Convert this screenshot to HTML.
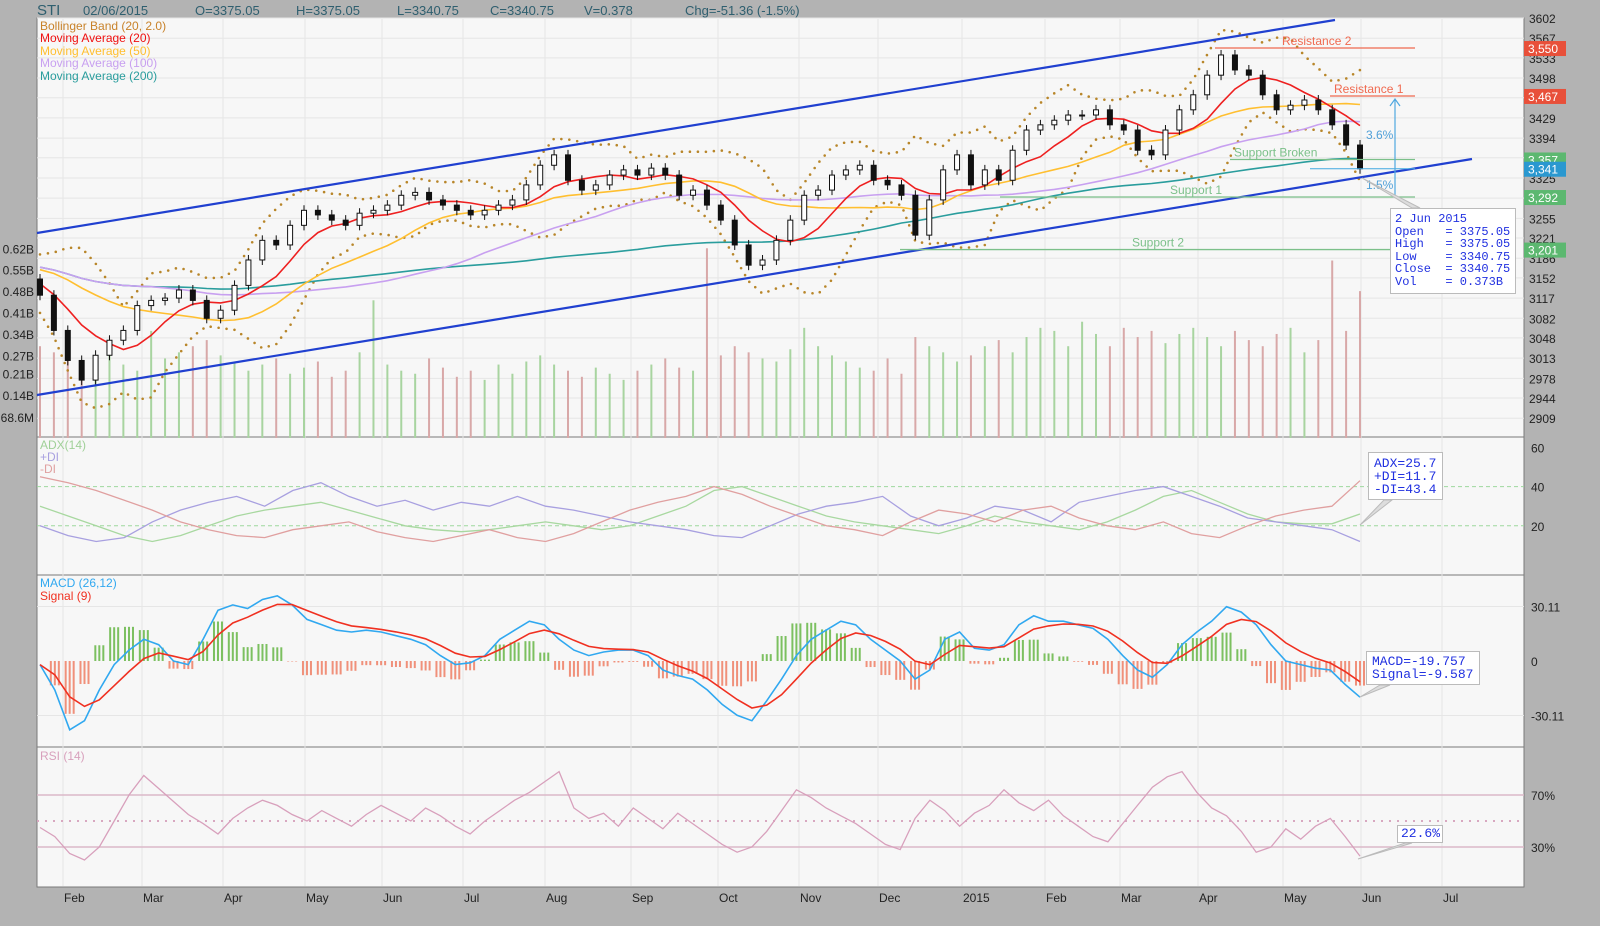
<!DOCTYPE html>
<html><head><meta charset="utf-8"><style>
html,body{margin:0;padding:0;background:#b3b3b3;width:1600px;height:926px;overflow:hidden;position:relative;}
#chart{display:block;position:absolute;left:0;top:0;font-family:"Liberation Sans",sans-serif;}
</style></head><body>
<svg id="chart" width="1600" height="926" viewBox="0 0 1600 926" xmlns="http://www.w3.org/2000/svg">
<rect x="0" y="0" width="1600" height="926" fill="#b3b3b3"/>
<g id="header" font-size="13" fill="#2f5f6f">
<text x="37" y="15" font-size="15">STI</text>
<text x="83" y="15">02/06/2015</text>
<text x="195" y="15">O=3375.05</text>
<text x="296" y="15">H=3375.05</text>
<text x="397" y="15">L=3340.75</text>
<text x="490" y="15">C=3340.75</text>
<text x="584" y="15">V=0.378</text>
<text x="685" y="15">Chg=-51.36 (-1.5%)</text>
</g>
<g id="panels"></g>
<g id="marks"></g>
<g id="overlay"></g>
</svg>
<script>
// ---- data ----
const closes=[3122,3061,3009,2975,3018,3044,3061,3104,3113,3117,
3131,3113,3082,3096,3139,3183,3217,3209,3243,3269,
3261,3252,3243,3264,3269,3278,3295,3300,3287,3278,
3269,3261,3269,3278,3287,3313,3347,3365,3321,3304,
3313,3330,3339,3330,3342,3330,3295,3304,3278,3252,
3209,3174,3183,3217,3252,3295,3304,3330,3339,3347,
3321,3313,3295,3226,3287,3339,3365,3313,3339,3321,
3373,3408,3417,3425,3434,3434,3443,3417,3408,3373,
3365,3408,3443,3469,3503,3538,3512,3503,3469,3443,
3451,3460,3443,3417,3382,3341];
const firstOpen=3150;
const priorCloses=[3180,3195,3205,3190,3170,3150,3160,3175,3185,3200,3210,3195,3180,3170,3165,3175,3160,3140,3130,3125];
const volumes=[0.30,0.28,0.33,0.25,0.27,0.30,0.24,0.22,0.35,0.26,
0.28,0.30,0.32,0.27,0.25,0.22,0.24,0.26,0.21,0.23,
0.25,0.20,0.22,0.28,0.45,0.24,0.22,0.21,0.26,0.23,
0.20,0.22,0.19,0.24,0.21,0.25,0.27,0.24,0.22,0.20,
0.23,0.21,0.19,0.22,0.24,0.26,0.23,0.22,0.62,0.27,
0.30,0.28,0.26,0.25,0.29,0.36,0.30,0.27,0.25,0.23,
0.22,0.26,0.21,0.33,0.30,0.28,0.25,0.27,0.30,0.32,
0.28,0.33,0.36,0.35,0.30,0.38,0.34,0.30,0.36,0.33,
0.35,0.31,0.34,0.36,0.33,0.30,0.35,0.32,0.30,0.34,
0.36,0.28,0.32,0.58,0.35,0.48];
const minusDI=[45,42,38,33,28,22,18,15,14,18,20,22,17,14,12,15,18,14,12,16,22,28,32,35,40,36,30,25,20,18,15,22,28,26,22,28,30,24,20,18,22,16,14,20,25,28,30,43];
const plusDI=[20,15,12,14,22,28,32,35,30,38,42,35,30,33,28,32,30,35,30,28,25,22,20,18,15,14,20,26,30,32,35,25,20,24,30,28,22,32,35,38,40,35,30,24,22,20,18,12];
const adx=[30,25,20,15,12,15,20,25,28,30,32,28,24,20,18,17,18,20,22,20,18,20,25,30,38,40,35,30,25,22,20,18,16,20,25,22,20,18,22,28,35,38,32,26,22,21,21,26];
const macd=[-2,-16,-38,-33,-16,-2,6,12,9,0,-2,12,28,31,29,34,36,31,23,20,17,16,17,16,14,12,9,3,-2,-1,3,12,17,22,20,12,6,3,5,6,6,3,-5,-8,-10,-16,-24,-30,-33,-22,-10,3,12,17,22,20,12,6,0,-10,-5,12,16,7,6,9,20,25,22,22,20,18,12,3,-5,-9,-2,9,16,22,30,27,20,9,0,-2,-4,-5,-13,-20];
const rsi=[45,38,25,20,30,50,70,85,75,65,55,48,40,52,60,66,62,55,50,58,52,46,55,62,56,50,60,54,46,40,50,58,66,72,80,88,60,52,56,46,60,52,44,56,48,40,32,26,30,42,58,74,68,60,54,48,40,32,28,52,66,58,46,56,62,74,64,58,66,54,46,38,34,48,62,76,84,88,72,60,54,42,26,30,44,36,46,52,38,23];
const priceTicks=[3602,3567,3533,3498,3464,3429,3394,3360,3325,3290,3255,3221,3186,3152,3117,3082,3048,3013,2978,2944,2909];
const volTicks=["0.62B","0.55B","0.48B","0.41B","0.34B","0.27B","0.21B","0.14B","68.6M"];
const volTickVals=[0.62,0.55,0.48,0.41,0.34,0.27,0.21,0.14,0.0686];
const monthLabels=["Feb","Mar","Apr","May","Jun","Jul","Aug","Sep","Oct","Nov","Dec","2015","Feb","Mar","Apr","May","Jun","Jul"];
const monthX=[64,143,224,306,383,464,546,632,719,800,879,963,1046,1121,1199,1284,1362,1443];
const levels=[{name:"resistance-2",label:"Resistance 2",v:3550,tag:"3,550",c:"#f06a50",x1:1215,lx:1282},
{name:"resistance-1",label:"Resistance 1",v:3467,tag:"3,467",c:"#f06a50",x1:1330,lx:1334},
{name:"support-broken",label:"Support Broken",v:3357,tag:"3,357",c:"#7cc08a",x1:1230,lx:1234},
{name:"support-1",label:"Support 1",v:3292,tag:"3,292",c:"#7cc08a",x1:1000,lx:1170},
{name:"support-2",label:"Support 2",v:3201,tag:"3,201",c:"#7cc08a",x1:900,lx:1132}];

// ---- geometry ----
const L=37,R=1524,X0=40,X1=1360;
const NS="http://www.w3.org/2000/svg";
const py=p=>18+(3602-p)*0.5775;
const vy=v=>438-v*306;
const ady=v=>565-v*1.96;
const my=v=>661-v*1.81;
const ry=v=>847-(v-30)*1.3;
const xi=(i,n)=>X0+i*(X1-X0)/(n-1);
function el(tag,attrs,parent){const e=document.createElementNS(NS,tag);for(const k in attrs)e.setAttribute(k,attrs[k]);parent.appendChild(e);return e;}
const P=document.getElementById('panels'),M=document.getElementById('marks'),O=document.getElementById('overlay');

[[18,437,'price-panel'],[437,575,'adx-panel'],[575,747,'macd-panel'],[747,887,'rsi-panel']].forEach(([t,b,n])=>{
 const r=el('rect',{x:L,y:t,width:R-L,height:b-t,fill:'#f7f7f7',stroke:'#7a7a7a','stroke-width':1},P);
 
 
});
monthX.forEach((x,i)=>{
 const g=el('line',{x1:x-1,x2:x-1,y1:19,y2:886,stroke:'#e6e6e6'},P);
 
 
 const t=el('text',{x:x,y:902,'font-size':12,fill:'#222'},P);t.textContent=monthLabels[i];
 
 
});
priceTicks.forEach(p=>{
 const g=el('line',{x1:L,x2:R,y1:py(p),y2:py(p),stroke:'#e6e6e6'},P);
 
 
 const t=el('text',{x:1529,y:py(p)+5,'font-size':12,fill:'#222'},P);t.textContent=p;
 
 
});
volTicks.forEach((s,i)=>{
 const t=el('text',{x:34,y:vy(volTickVals[i])+5,'font-size':12,fill:'#222','text-anchor':'end'},P);t.textContent=s;
 
 
});
[[60,ady],[40,ady],[20,ady]].forEach(([v,f])=>{const t=el('text',{x:1531,y:f(v)+5,'font-size':12,fill:'#222'},P);t.textContent=v;
 
 });
[[30.11,'30.11'],[0,'0'],[-30.11,'-30.11']].forEach(([v,s])=>{const t=el('text',{x:1531,y:my(v)+5,'font-size':12,fill:'#222'},P);t.textContent=s;
 
 
 if(v!==0){const g=el('line',{x1:L,x2:R,y1:my(v),y2:my(v),stroke:'#e6e6e6'},P);}});
[[70,'70%'],[30,'30%']].forEach(([v,s])=>{const t=el('text',{x:1531,y:ry(v)+5,'font-size':12,fill:'#222'},P);t.textContent=s;
 
 
 const g=el('line',{x1:L,x2:R,y1:ry(v),y2:ry(v),stroke:'#dcb8c8','stroke-width':1.5},P);
 
 });
{const g=el('line',{x1:L,x2:R,y1:ry(50),y2:ry(50),stroke:'#d8a8c0','stroke-width':2,'stroke-dasharray':'2 6'},P);
 
 }
[40,20].forEach(v=>{const g=el('line',{x1:L,x2:R,y1:ady(v),y2:ady(v),stroke:'#9ed89e','stroke-dasharray':'4 3'},P);
 
 });

const nC=closes.length;
volumes.forEach((v,i)=>{
 const x=xi(i,nC),prev=i?closes[i-1]:firstOpen;
 const b=el('rect',{x:x-1,y:vy(v),width:2,height:438-vy(v),fill:closes[i]>=prev?'#a8d4a0':'#d8a8a8'},M);
 
 
});
const all=priorCloses.concat(closes);
function ma(n){return closes.map((c,i)=>{const j=i+priorCloses.length;const s=all.slice(Math.max(0,j-n+1),j+1);return s.reduce((a,b)=>a+b,0)/s.length;});}
function pathOf(arr,fy){return arr.map((v,i)=>(i?'L':'M')+xi(i,arr.length).toFixed(1)+' '+fy(v).toFixed(1)).join(' ');}
const ma20=ma(6),ma50=ma(15),ma100=ma(29),ma200=ma(59);
const bbU=[],bbL=[];
closes.forEach((c,i)=>{const j=i+priorCloses.length;const s=all.slice(Math.max(0,j-5),j+1);const m=s.reduce((a,b)=>a+b,0)/s.length;const sd=Math.sqrt(s.reduce((a,b)=>a+(b-m)*(b-m),0)/s.length);bbU.push(m+2*sd+12);bbL.push(m-2*sd-12);});
[[bbU,'bollinger-upper'],[bbL,'bollinger-lower']].forEach(([a,n])=>{const p=el('path',{d:pathOf(a,py),fill:'none',stroke:'#b8862a','stroke-width':2.6,'stroke-linecap':'round','stroke-dasharray':'0 8'},M);
 
 });
[[ma200,'#2a9d9d','ma-200-line'],[ma100,'#c8a0f0','ma-100-line'],[ma50,'#ffbf30','ma-50-line'],[ma20,'#ee2020','ma-20-line']].forEach(([a,c,n])=>{
 const p=el('path',{d:pathOf(a,py),fill:'none',stroke:c,'stroke-width':1.6},M);
 
 
});
closes.forEach((c,i)=>{
 const o=i?closes[i-1]:firstOpen,x=xi(i,nC);
 const top=py(Math.max(o,c)),bot=py(Math.min(o,c));
 const w=el('line',{x1:x,x2:x,y1:top-5,y2:bot+5,stroke:'#111'},M);
 
 
 const b=el('rect',{x:x-2.5,y:top,width:5,height:Math.max(1,bot-top),fill:c>=o?'#fff':'#111',stroke:'#111','stroke-width':1},M);
 
 
});
[[adx,'#a8d8a0','adx-line'],[plusDI,'#a8a0e0','plus-di-line'],[minusDI,'#e0a0a0','minus-di-line']].forEach(([a,c,n])=>{
 const p=el('path',{d:pathOf(a,ady),fill:'none',stroke:c,'stroke-width':1.3},M);
 
 
});
const signal=[];macd.forEach((v,i)=>signal.push(i?signal[i-1]+0.4*(v-signal[i-1]):v));
macd.forEach((v,i)=>{
 const h=(v-signal[i])*1.6,x=xi(i,macd.length);
 for(let k=-1;k<=1;k++){const b=el('rect',{x:x+k*4-1,y:Math.min(my(0),my(h)),width:2,height:Math.abs(my(h)-my(0)),fill:h>=0?'#7cc060':'#f0907a'},M);
 
 }
});
{const p=el('path',{d:pathOf(macd,my),fill:'none',stroke:'#30a8f0','stroke-width':1.6},M);
 
 
 const s=el('path',{d:pathOf(signal,my),fill:'none',stroke:'#f03020','stroke-width':1.6},M);
 
 }
{const p=el('path',{d:pathOf(rsi,ry),fill:'none',stroke:'#d8a0bc','stroke-width':1.3},M);
 
 }

[[37,233,1335,20,'upper-channel-line'],[37,395,1472,159,'lower-channel-line']].forEach(([a,b,c,d,n])=>{
 const l=el('line',{x1:a,y1:b,x2:c,y2:d,stroke:'#2040d0','stroke-width':2.2},O);
 
 
});
levels.forEach(lv=>{
 const y=py(lv.v);
 const l=el('line',{x1:lv.x1,x2:1415,y1:y,y2:y,stroke:lv.c,'stroke-width':1.3},O);
 
 
 const t=el('text',{x:lv.lx,y:y-3,'font-size':12,fill:lv.c},O);t.textContent=lv.label;
 
 
 const tg=el('rect',{x:1524,y:y-7,width:42,height:15,fill:lv.c==='#f06a50'?'#e8503a':'#5cb870'},O);
 
 
 const tt=el('text',{x:1528,y:y+5,'font-size':12,fill:'#fff'},O);tt.textContent=lv.tag;
 
 
});
{const y=py(3341);
 const l=el('line',{x1:1310,x2:1415,y1:y,y2:y,stroke:'#40a8e0'},O);
 
 
 const tg=el('rect',{x:1524,y:y-7,width:42,height:15,fill:'#2a98d0'},O);
 
 
 const tt=el('text',{x:1528,y:y+5,'font-size':12,fill:'#fff'},O);tt.textContent='3,341';
 
 }
{const a=el('path',{d:'M1395 198 L1395 99 M1390 106 L1395 99 L1400 106',fill:'none',stroke:'#50a8e0','stroke-width':1.2},O);
 
 
 const t1=el('text',{x:1366,y:139,'font-size':12,fill:'#50a0d8'},O);t1.textContent='3.6%';
 
 
 const t2=el('text',{x:1366,y:189,'font-size':12,fill:'#50a0d8'},O);t2.textContent='1.5%';
 
 }
</script>
<div style="position:absolute;left:0;top:0;width:1600px;height:926px;pointer-events:none;overflow:hidden;">
<div style="position:absolute;left:40px;top:20px;font:12px 'Liberation Sans',sans-serif;line-height:12.4px;">
<div style="color:#c8822a">Bollinger Band (20, 2.0)</div>
<div style="color:#f01010">Moving Average (20)</div>
<div style="color:#ffbf30">Moving Average (50)</div>
<div style="color:#c8a0f0">Moving Average (100)</div>
<div style="color:#2a9d9d">Moving Average (200)</div>
</div>
<div style="position:absolute;left:40px;top:439px;font:12px 'Liberation Sans',sans-serif;line-height:12px;">
<div style="color:#a0d098">ADX(14)</div><div style="color:#a8a0e0">+DI</div><div style="color:#e0a0a0">-DI</div></div>
<div style="position:absolute;left:40px;top:577px;font:12px 'Liberation Sans',sans-serif;line-height:13px;">
<div style="color:#30a8f0">MACD (26,12)</div><div style="color:#f03020">Signal (9)</div></div>
<div style="position:absolute;left:40px;top:749px;font:12px 'Liberation Sans',sans-serif;color:#d8a0bc;">RSI (14)</div>
<div style="position:absolute;left:1390px;top:208px;width:126px;height:86px;background:#fff;border:1px solid #bbb;font:12px 'Liberation Mono',monospace;color:#2030e0;line-height:12.5px;padding:4px 0 0 4px;box-sizing:border-box;white-space:pre;overflow:hidden">2 Jun 2015
Open   = 3375.05
High   = 3375.05
Low    = 3340.75
Close  = 3340.75
Vol    = 0.373B</div>
<div style="position:absolute;left:1368px;top:452px;width:75px;height:48px;background:#fff;border:1px solid #bbb;font:13px 'Liberation Mono',monospace;color:#2030e0;line-height:13px;padding:4px 0 0 5px;box-sizing:border-box;white-space:pre">ADX=25.7
+DI=11.7
-DI=43.4</div>
<div style="position:absolute;left:1366px;top:651px;width:114px;height:34px;background:#fff;border:1px solid #bbb;font:13px 'Liberation Mono',monospace;color:#2030e0;line-height:13px;padding:3px 0 0 5px;box-sizing:border-box;white-space:pre">MACD=-19.757
Signal=-9.587</div>
<div style="position:absolute;left:1397px;top:825px;width:46px;height:18px;background:#fff;border:1px solid #bbb;font:13px 'Liberation Mono',monospace;color:#2030e0;line-height:14px;padding:1px 0 0 3px;box-sizing:border-box">22.6%</div>
<svg width="1600" height="926" style="position:absolute;left:0;top:0">
<path d="M1362 178 L1412 208 L1420 208 Z" fill="#ddd" stroke="#bbb"/>
<path d="M1360 525 L1384 500 L1392 500 Z" fill="#ddd" stroke="#bbb"/>
<path d="M1360 697 L1380 685 L1390 685 Z" fill="#ddd" stroke="#bbb"/>
<path d="M1358 859 L1405 843 L1412 843 Z" fill="#ddd" stroke="#bbb"/>
</svg>
</div>
</body></html>
